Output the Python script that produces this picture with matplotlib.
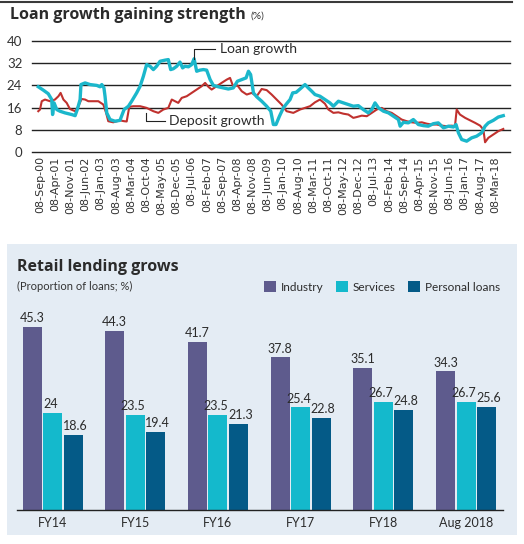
import matplotlib
matplotlib.use("Agg")
import matplotlib.pyplot as plt
from matplotlib.patches import Rectangle, Patch
from matplotlib.lines import Line2D

plt.rcParams['font.family'] = ['Lato', 'DejaVu Sans']

# ---------------- data: top chart (months since 08-Sep-00) ----------------
loan_months = [-0.8, 1.5, 3.8, 5.4, 5.8, 6.5, 7.7, 9.2, 11.5, 14.6, 16.2, 17.2, 18.5, 18.9, 20.8, 23.1,
               26.2, 27.7, 28.5, 29.5, 30, 30.8, 32.3, 34.6, 36.9, 38.8, 40.8, 42.3, 44.6, 46.2, 47.7,
               49.2, 50.8, 52.3, 53.8, 55.4, 57.7, 59.2, 60.3, 61.5, 63.1, 64.6, 65.8, 66.9, 68.5, 70,
               71.1, 72.3, 73.8, 75.4, 76.9, 78.5, 80, 82.3, 84.6, 86.9, 89.2, 91.1, 93.1, 95.1, 96.2,
               97.2, 98.5, 100, 102.3, 104.6, 106.5, 107.7, 108.9, 110.5, 112.3, 113.8, 115.4, 116.6,
               118.2, 120, 122.3, 123.8, 125.4, 126.9, 129.2, 131.5, 133.8, 135.4, 137.7, 140, 142.3,
               144.6, 146.9, 149.2, 151.5, 153.1, 154.6, 156.2, 158.5, 160.8, 163.1, 165.4, 166.2,
               167.7, 170, 172.3, 174.6, 176.9, 179.2, 181.5, 183.8, 186.2, 188.5, 190.8, 192, 193.1,
               194.6, 196.9, 199.2, 201.5, 203.8, 205.4, 206.9, 209.2, 211.5, 213.8]
loan_growth = [23.5, 22.3, 21, 18.9, 13.5, 17.7, 15.3, 14.7, 14.1, 13.5, 13.1, 15.3, 18.9, 24.3, 24.9,
               24.3, 24, 23.5, 24.3, 23.1, 20.1, 14.1, 11.7, 11.1, 11.4, 15.3, 16.5, 18.3, 21.3, 23.7,
               27.3, 31.5, 30.9, 29.7, 30.9, 32.7, 33.1, 33.3, 29.7, 30, 30.9, 32.4, 30.3, 30.9, 30.7,
               31.5, 33.6, 29.1, 29.5, 29.7, 29.5, 26.1, 24, 23.5, 23.1, 22.7, 23.1, 25.5, 26.1, 26.7,
               29.1, 27.9, 21.3, 19.9, 18.3, 16.5, 14.7, 9.9, 9.9, 12.9, 15.9, 17.4, 18.9, 21.3, 21.5,
               22.7, 24.3, 23.1, 21.9, 20.7, 20.1, 18.9, 17.7, 16.5, 18.3, 17.7, 17.1, 16.5, 16.7,
               15.3, 14.1, 15.3, 17.7, 15.9, 14.7, 14.1, 12.9, 11.7, 9.3, 10.7, 10.5, 11.7, 9.9, 9.5,
               9.3, 10.2, 10.5, 8.7, 9.3, 9, 9.9, 6.9, 4.5, 3.9, 5.1, 5.7, 6.9, 9.3, 10.5, 11.4, 12.6,
               13.1]

dep_months = [-0.8, 0, 0.8, 2.3, 4.6, 6.9, 8.5, 9.5, 10.8, 12.3, 13.8, 16.2, 17.7, 19.2, 20.8, 22.3,
              24.6, 26.9, 29.2, 30.5, 31.5, 33.8, 36.9, 38.8, 40, 41.2, 43.1, 46.2, 49.2, 52.3, 54.6,
              56.9, 59.2, 60.8, 62.3, 63.8, 65.4, 67.7, 70, 72.3, 74.6, 76.2, 77.7, 79.2, 81.5, 83.8,
              86.2, 87.7, 89.2, 91.1, 93.1, 95.4, 97.7, 100, 102.3, 104.6, 106.9, 109.2, 111.5, 113.8,
              116.9, 120, 122.3, 124.6, 126.9, 129.2, 131.5, 133.1, 135.4, 137.7, 140, 142.3, 144.6,
              146.2, 148.5, 150.8, 153.1, 155.4, 157.7, 160, 162.3, 164.6, 166.9, 169.2, 171.5, 173.8,
              176.2, 178.5, 180.8, 183.1, 185.4, 187.7, 190, 191.5, 192.3, 193.8, 196.2, 198.5, 200.8,
              203.1, 204.6, 205.4, 206.9, 209.2, 211.5, 213.8]
deposit_growth = [14.7, 15.3, 18.3, 18.9, 18.3, 18.9, 20.1, 21.3, 18.9, 17.7, 15.5, 14.7, 16.5, 19.1,
                  18.9, 18.3, 18.3, 18.3, 17.1, 14.1, 11.1, 10.7, 11.4, 11.1, 11.0, 16.3, 16.5, 16.5,
                  15.9, 14.7, 14.1, 15.3, 15.9, 18.9, 18.3, 17.7, 19.5, 20.1, 21.3, 22.5, 23.7, 24.9,
                  23.5, 22.5, 23.7, 24.9, 26.1, 26.7, 23.5, 24, 21.9, 20.7, 21.3, 20.1, 22.7, 22.3, 20.7,
                  18.9, 17.1, 14.7, 14.1, 15.3, 15.9, 16.5, 17.9, 18.9, 17.4, 15.3, 14.1, 14.3, 13.8,
                  13.5, 12.3, 12.6, 13.1, 12.9, 14.1, 15.3, 15.9, 14.7, 14.1, 12.9, 11.7, 11.1, 10.7,
                  10.5, 10.7, 10.2, 9.9, 9.9, 9.5, 9.3, 9.5, 9.3, 15.3, 13.5, 12.3, 11.4, 10.5, 9.5, 8.1,
                  3.5, 5.1, 6.3, 7.5, 8.3]

tick_months = list(range(0, 211, 7))
tick_labels = ['08-Sep-00', '08-Apr-01', '08-Nov-01', '08-Jun-02', '08-Jan-03', '08-Aug-03',
               '08-Mar-04', '08-Oct-04', '08-May-05', '08-Dec-05', '08-Jul-06', '08-Feb-07',
               '08-Sep-07', '08-Apr-08', '08-Nov-08', '08-Jun-09', '08-Jan-10', '08-Aug-10',
               '08-Mar-11', '08-Oct-11', '08-May-12', '08-Dec-12', '08-Jul-13', '08-Feb-14',
               '08-Sep-14', '08-Apr-15', '08-Nov-15', '08-Jun-16', '08-Jan-17', '08-Aug-17',
               '08-Mar-18']
y_ticks = [0, 8, 16, 24, 32, 40]

# ---------------- data: bar chart ----------------
periods = ['FY14', 'FY15', 'FY16', 'FY17', 'FY18', 'Aug 2018']
industry = [45.3, 44.3, 41.7, 37.8, 35.1, 34.3]
services = [24, 23.5, 23.5, 25.4, 26.7, 26.7]
personal = [18.6, 19.4, 21.3, 22.8, 24.8, 25.6]
series_names = ['Industry', 'Services', 'Personal loans']
series_colors = ['#5e5b8d', '#14b9cc', '#045a87']

W, H = 524, 544
fig = plt.figure(figsize=(W / 100, H / 100), dpi=100)
fig.patch.set_facecolor('white')

def fx(px):
    return px / W

def fy(py):
    return 1 - py / H

# top border line
fig.add_artist(Line2D([0, fx(512)], [fy(2), fy(2)], color='#3a3a3a', lw=1.5))

# top title
t1 = fig.text(fx(10), fy(15), 'Loan growth gaining strength', fontsize=11.5, fontweight='bold',
              color='#2b2b2b', va='center', ha='left', family=['Open Sans', 'DejaVu Sans'])
fig.canvas.draw()
bb = t1.get_window_extent()
fig.text(bb.x1 / W + fx(5), fy(16), '(%)', fontsize=7.5, color='#333333', va='center', ha='left')

# ---------------- top axes ----------------
ax1 = fig.add_axes([fx(32), fy(152), fx(510) - fx(32), fy(41) - fy(152)])
ax1.set_facecolor('none')
ax1.plot(loan_months, loan_growth, color='#1bb7cb', lw=2.4, zorder=3, solid_joinstyle='round')
ax1.plot(dep_months, deposit_growth, color='#c0312e', lw=1.5, zorder=2)
ax1.set_ylim(0, 40)
ax1.set_xlim(-3.7, 216.9)
ax1.set_yticks(y_ticks)
ax1.set_yticklabels([str(v) for v in y_ticks], fontsize=9.5, color='#333333')
ax1.set_xticks(tick_months)
ax1.set_xticklabels(tick_labels, rotation=90, fontsize=8, color='#333333', family='DejaVu Sans')
ax1.tick_params(axis='both', length=0)
ax1.tick_params(axis='y', pad=7)
ax1.tick_params(axis='x', pad=3)
for s in ax1.spines.values():
    s.set_visible(False)
for v in y_ticks:
    ax1.axhline(v, color='#222222', lw=1.0, zorder=1, clip_on=False)

# annotations
ax1.plot([71.1, 71.1, 80.8], [33.6, 37.1, 37.1], color='#222222', lw=0.8, zorder=4)
ax1.text(83, 37.1, 'Loan growth', fontsize=10, color='#2b2b2b', va='center', ha='left')
ax1.plot([48.9, 48.9, 57.7], [14.1, 11.2, 11.2], color='#222222', lw=0.8, zorder=4)
ax1.text(59.5, 11.2, 'Deposit growth', fontsize=10, color='#2b2b2b', va='center', ha='left',
         bbox=dict(facecolor='white', edgecolor='none', pad=0.5), zorder=4)

# ---------------- bottom panel ----------------
fig.add_artist(Rectangle((fx(7), fy(535)), fx(517) - fx(7), fy(244) - fy(535),
                         transform=fig.transFigure, facecolor='#e4ecf4', edgecolor='none', zorder=0))
fig.text(fx(17), fy(267), 'Retail lending grows', fontsize=11.5, fontweight='bold',
         color='#2b2b2b', va='center', ha='left', family=['Open Sans', 'DejaVu Sans'])
fig.text(fx(17), fy(286), '(Proportion of loans; %)', fontsize=8, color='#333333',
         va='center', ha='left')

ax2 = fig.add_axes([fx(17), fy(510), fx(503) - fx(17), fy(308) - fy(510)])
ax2.set_facecolor('none')
x = list(range(len(periods)))
bw = 0.23
off = 0.248
label_dx = [0, -1.5, 1.5]
for k, (vals, col) in enumerate(zip([industry, services, personal], series_colors)):
    xs = [xi + (k - 1) * off for xi in x]
    ax2.bar(xs, vals, width=bw, color=col, zorder=2)
    for xb, v in zip(xs, vals):
        ax2.annotate(f'{v:g}', (xb, v), xytext=(label_dx[k], 2), textcoords='offset points',
                     ha='center', va='bottom', fontsize=9, color='#2b2b2b')
ax2.set_xlim(-0.43, 5.447)
ax2.set_ylim(0, 50)
ax2.set_xticks(x)
ax2.set_xticklabels(periods, fontsize=9, color='#2b2b2b')
ax2.set_yticks([])
ax2.tick_params(axis='x', length=0, pad=5)
for s in ['top', 'right', 'left']:
    ax2.spines[s].set_visible(False)
ax2.spines['bottom'].set_color('#222222')
ax2.spines['bottom'].set_linewidth(1.0)

handles = [Patch(facecolor=c, edgecolor='none') for c in series_colors]
fig.legend(handles, series_names, loc='center right', bbox_to_anchor=(fx(506), fy(287)),
           ncol=3, frameon=False, fontsize=8.5, handlelength=1.0, handleheight=1.0,
           handletextpad=0.4, columnspacing=1.1, borderpad=0, labelcolor='#2b2b2b')

fig.savefig('out.png', dpi=100, facecolor='white')
